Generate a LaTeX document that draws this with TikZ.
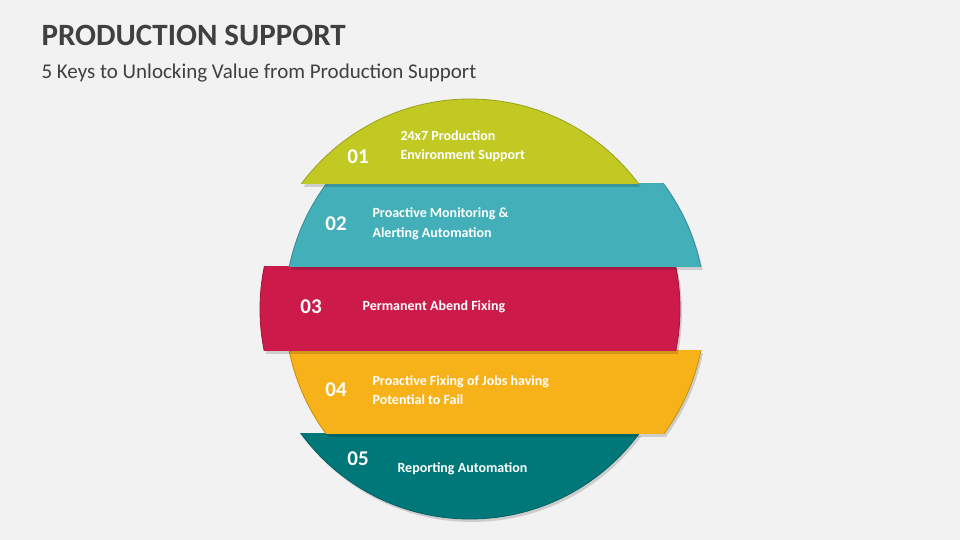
\documentclass[tikz,border=0pt]{standalone}
\usepackage{fontspec}
\setmainfont{Carlito}
\definecolor{bg}{HTML}{F2F2F2}
\definecolor{titlec}{HTML}{404040}
\definecolor{c1}{HTML}{C2C923}
\definecolor{c2}{HTML}{42AFB9}
\definecolor{c3}{HTML}{CC1A4A}
\definecolor{c4}{HTML}{F8B219}
\definecolor{c5}{HTML}{00787A}
\tikzset{
 num/.style={text=white,font=\bfseries\fontsize{21}{24}\selectfont,anchor=center},
 lbl/.style={text=white,font=\bfseries\fontsize{14}{19.5}\selectfont,anchor=west,align=left},
}
\newcommand{\myslice}[4]{% y1 y2 cx color
 \begin{scope}
  \clip (0,#1+3) rectangle (960,#2+3);
  \fill[black,opacity=0.15] (#3+2,312) circle (210pt);
 \end{scope}
 \begin{scope}
  \clip (0,#1) rectangle (960,#2);
  \fill[#4] (#3,309) circle (210pt);
  \draw[#4!80!black,line width=0.8pt] (#3,309) circle (210pt);
 \end{scope}}
\begin{document}
\begin{tikzpicture}[x=1pt,y=-1pt]
\fill[bg] (0,0) rectangle (960,540);
\node[anchor=west,text=titlec,font=\bfseries\fontsize{31}{34}\selectfont] (title) at (38,35) {PRODUCTION SUPPORT};
\node[anchor=west,text=titlec,font=\fontsize{21}{24}\selectfont] (sub) at (38,73) {5 Keys to Unlocking Value from Production Support};
\myslice{433}{520}{470}{c5}
\myslice{350}{433}{495}{c4}
\myslice{266}{350}{470}{c3}
\myslice{183}{266}{495}{c2}
\myslice{95}{183}{470}{c1}
\node[num] (n1) at (358,157) {01};
\node[lbl] (l1) at (397,146) {24x7 Production\\Environment Support};
\node[num] (n2) at (336,224) {02};
\node[lbl] (l2) at (369,224) {Proactive Monitoring \&\\Alerting Automation};
\node[num] (n3) at (311,307) {03};
\node[lbl] (l3) at (359,307) {Permanent Abend Fixing};
\node[num] (n4) at (336,390) {04};
\node[lbl] (l4) at (369,390) {Proactive Fixing of Jobs having\\Potential to Fail};
\node[num] (n5) at (358,459) {05};
\node[lbl] (l5) at (394,469) {Reporting Automation};
\end{tikzpicture}
\end{document}
